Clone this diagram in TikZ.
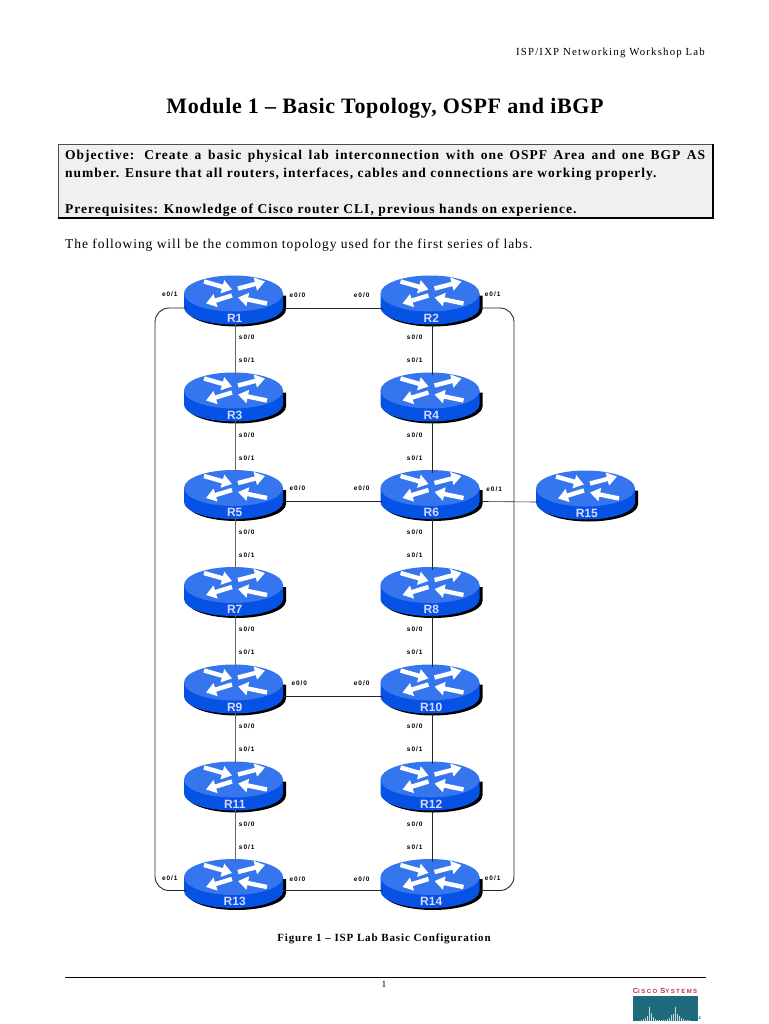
\documentclass[tikz,border=0pt]{standalone}
\usepackage{fontspec}
\setmainfont{Liberation Serif}
\setsansfont{Liberation Sans}
\usetikzlibrary{arrows.meta,positioning}

\definecolor{routertop}{HTML}{3575EE}
\definecolor{routerside}{HTML}{0552E4}
\definecolor{ciscored}{HTML}{B23A48}
\definecolor{ciscoteal}{HTML}{1F6A7C}

\newcommand{\routernode}[2]{%
  \pic at (#2) {routerbody};
  \node[router] (#1) at (#2) {#1};
}

\begin{document}
\begin{tikzpicture}[
  x=1pt, y=-1pt,
  >=Latex,
  router/.style={inner sep=0pt, minimum width=103pt, text width=103pt, align=center,
    text height=46.5pt, text depth=4.5pt, text=white!85!blue,
    font=\fontsize{12}{12}\sffamily\bfseries, execute at end node=\hspace*{1.5pt}},
  routerarrow/.style={white, line width=4.4pt, -{Triangle[length=10pt, width=13pt]}},
  pics/routerbody/.style={code={
    \begin{scope}[shift={(-51.5,-25.5)}]
      \fill[black] (3,20) -- (3,34) arc[start angle=180, end angle=0, x radius=49.5, y radius=17] -- (102,20) -- cycle;
      \fill[routerside] (0,18) -- (0,32) arc[start angle=180, end angle=0, x radius=49.5, y radius=17] -- (99,18) -- cycle;
      \fill[routertop] (49.5,18) ellipse[x radius=49.5, y radius=18];
      \draw[routerarrow] (20,6) -- (48,14);
      \draw[routerarrow] (54,13) -- (81,6);
      \draw[routerarrow] (48,20) -- (22,28);
      \draw[routerarrow] (83,28) -- (54,22);
    \end{scope}
  }},
  link/.style={draw=black!85, line width=0.9pt, shorten >=-3pt, shorten <=-3pt},
  serial/.style={draw=black!60, line width=0.9pt, shorten >=-3pt, shorten <=-3pt},
  port/.style={font=\fontsize{6.5}{7}\sffamily\bfseries\addfontfeature{LetterSpace=15}, inner sep=1pt},
  portup/.style={port, above=9pt},
  portside/.style={port, right=2pt},
  bodytext/.style={font=\fontsize{13.5}{18}\selectfont\addfontfeature{LetterSpace=7}, inner sep=0pt}
]
  \useasboundingbox (0,0) rectangle (768,1024);

  % page head
  \node[font=\fontsize{10.8}{12}\selectfont\addfontfeature{LetterSpace=11}, anchor=east, inner sep=0pt] (head) at (705,53) {ISP/IXP Networking Workshop Lab};
  \node[font=\fontsize{22}{24}\selectfont\bfseries\addfontfeature{LetterSpace=3}, inner sep=0pt] (title) at (385,108) {Module 1 -- Basic Topology, OSPF and iBGP};

  \node[draw=black!70, line width=1pt, fill=black!6, minimum width=654pt, minimum height=73pt, inner sep=0pt] (objbox) at (385,181.5) {};
  \draw[line width=2pt] (objbox.south west) -- (objbox.south east) -- (objbox.north east);
  \node[bodytext, font=\fontsize{13.5}{17.5}\selectfont\bfseries\addfontfeature{LetterSpace=7.5}, text width=640pt, align=justify, anchor=north west] (objective) at (65,150)
    {Objective: Create a basic physical lab interconnection with one OSPF Area and one BGP AS\linebreak number. Ensure that all routers, interfaces, cables and connections are working properly.\\[19pt]Prerequisites: Knowledge of Cisco router CLI, previous hands on experience.};
  \node[bodytext, anchor=west] (intro) at (65,245) {The following will be the common topology used for the first series of labs.};

  % routers
  \routernode{R1}{235.5,301}
  \routernode{R2}{432,301}
  \routernode{R3}{235.5,398}
  \routernode{R4}{432,398}
  \routernode{R5}{235.5,495.5}
  \routernode{R6}{432,495.5}
  \routernode{R7}{235.5,592.5}
  \routernode{R8}{432,592.5}
  \routernode{R9}{235.5,690}
  \routernode{R10}{432,690}
  \routernode{R11}{235.5,787}
  \routernode{R12}{432,787}
  \routernode{R13}{235.5,884.5}
  \routernode{R14}{432,884.5}
  \routernode{R15}{587.5,496}

  \coordinate (loopleft) at (155,600);
  \coordinate (loopright) at (514,600);

  % horizontal ethernet
  \draw[link] ([yshift=-7pt]R1.east) -- node[portup, pos=.11]{e0/0} node[portup, pos=.8]{e0/0} ([yshift=-7pt]R2.west);
  \draw[link] ([yshift=-6pt]R5.east) -- node[portup, pos=.11]{e0/0} node[portup, pos=.8]{e0/0} ([yshift=-6pt]R6.west);
  \draw[link] ([yshift=-6pt]R9.east) -- node[portup, pos=.13]{e0/0} node[portup, pos=.8]{e0/0} ([yshift=-6pt]R10.west);
  \draw[link] ([yshift=-6pt]R13.east) -- node[portup, pos=.11, yshift=-2pt]{e0/0} node[portup, pos=.8, yshift=-2pt]{e0/0} ([yshift=-6pt]R14.west);
  \draw[link, line width=0.6pt] ([yshift=-6pt]R6.east) -- node[portup, pos=.2]{e0/1} ([yshift=-6pt]R15.west);

  % outer loops
  \draw[link, rounded corners=14pt] ([yshift=-7pt]R1.west) -| (loopleft) |- ([yshift=-6pt]R13.west);
  \draw[link, rounded corners=14pt] ([yshift=-7pt]R2.east) -| (loopright) |- ([yshift=-6pt]R14.east);
  \node[port, left=5pt of R1, yshift=7pt] (p1) {e0/1};
  \node[port, left=5pt of R13, yshift=6pt] (p13) {e0/1};
  \node[port, right=0pt of R2, yshift=7pt] (p2) {e0/1};
  \node[port, right=0pt of R14, yshift=6pt] (p14) {e0/1};

  % vertical serial
  \draw[serial] (R1) -- node[portside, pos=.24]{s0/0} node[portside, pos=.74]{s0/1} (R3);
  \draw[serial] (R3) -- node[portside, pos=.24]{s0/0} node[portside, pos=.74]{s0/1} (R5);
  \draw[serial] (R5) -- node[portside, pos=.24]{s0/0} node[portside, pos=.74]{s0/1} (R7);
  \draw[serial] (R7) -- node[portside, pos=.24]{s0/0} node[portside, pos=.74]{s0/1} (R9);
  \draw[serial] (R9) -- node[portside, pos=.24]{s0/0} node[portside, pos=.74]{s0/1} (R11);
  \draw[serial] (R11) -- node[portside, pos=.24]{s0/0} node[portside, pos=.74]{s0/1} (R13);
  \draw[link] (R2) -- node[port, left=8pt, pos=.24]{s0/0} node[port, left=8pt, pos=.74]{s0/1} (R4);
  \draw[link] (R4) -- node[port, left=8pt, pos=.24]{s0/0} node[port, left=8pt, pos=.74]{s0/1} (R6);
  \draw[link] (R6) -- node[port, left=8pt, pos=.24]{s0/0} node[port, left=8pt, pos=.74]{s0/1} (R8);
  \draw[link] (R8) -- node[port, left=8pt, pos=.24]{s0/0} node[port, left=8pt, pos=.74]{s0/1} (R10);
  \draw[link] (R10) -- node[port, left=8pt, pos=.24]{s0/0} node[port, left=8pt, pos=.74]{s0/1} (R12);
  \draw[link] (R12) -- node[port, left=8pt, pos=.24]{s0/0} node[port, left=8pt, pos=.74]{s0/1} (R14);

  \node[font=\fontsize{11}{12}\selectfont\bfseries\addfontfeature{LetterSpace=8}, inner sep=0pt] (caption) at (384,939) {Figure 1 -- ISP Lab Basic Configuration};

  % page foot
  \coordinate (footleft) at (65,977);
  \coordinate (footright) at (706,977);
  \draw[line width=0.9pt] (footleft) -- (footright);
  \node[font=\fontsize{9.5}{11}\selectfont, inner sep=0pt] (pageno) at (384,984) {1};
  \node[font=\fontsize{7.5}{8}\sffamily\bfseries\addfontfeature{LetterSpace=24}, text=ciscored, inner sep=0pt, anchor=base] (cisconame) at (665,993) {C\fontsize{6}{8}\selectfont ISCO \fontsize{7.5}{8}\selectfont S\fontsize{6}{8}\selectfont YSTEMS};
  \node[fill=ciscoteal, minimum width=65pt, minimum height=25pt, inner sep=0pt] (ciscologo) at (665,1008.5) {};
  \foreach \bx/\bh in {641/1,643/2,645/3,647/5,649/14,651/8,653/4,655/2,657/1,659/1,661/1,663/1,665/1.5,667/2,669/3,671/6,673/7,675/14,677/7,679/5,681/3,683/2,685/1,687/1,689/1}
    \draw[white!75!ciscoteal, line width=0.9pt] (\bx,1021) -- ++(0,-\bh);
  \node[font=\fontsize{5}{5}\sffamily\bfseries, text=ciscoteal, inner sep=0pt] (ciscoreg) at (700,1018.5) {c};
\end{tikzpicture}
\end{document}
